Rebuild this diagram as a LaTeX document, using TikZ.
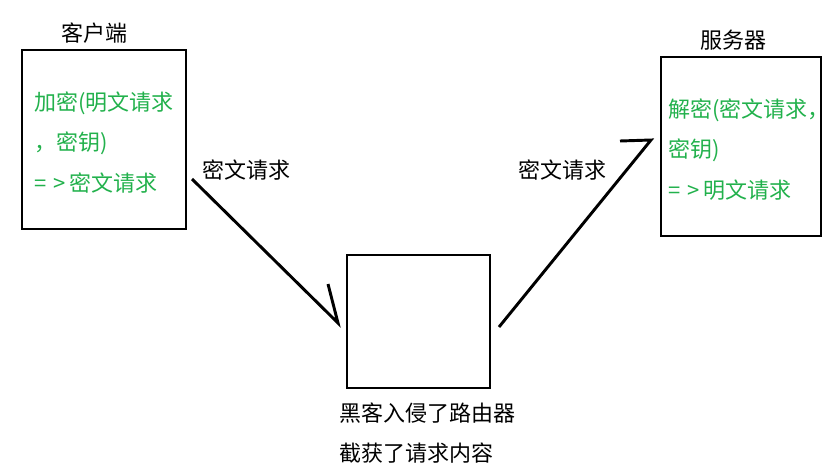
\documentclass[tikz,border=0pt]{standalone}
\usepackage{fontspec}
\setmainfont{Noto Sans CJK SC}
\definecolor{grn}{RGB}{34,177,76}
\begin{document}
\begin{tikzpicture}[x=0.75pt,y=-0.75pt,
  box/.style={draw,line width=2.2pt,inner sep=0pt},
  ln/.style={line width=2.2pt},
  txt/.style={font=\fontsize{16.5pt}{19pt}\selectfont,anchor=west,inner sep=0pt},
  gtxt/.style={txt,text=grn}]
\useasboundingbox (0,0) rectangle (840,472);
\node[box,minimum width=164*0.75pt,minimum height=179*0.75pt] (c) at (104,139.5) {};
\node[box,minimum width=160*0.75pt,minimum height=179*0.75pt] (s) at (741,146.5) {};
\node[box,minimum width=143*0.75pt,minimum height=133*0.75pt] (m) at (418.5,321.5) {};
\node[txt] (ct) at (61,33) {客户端};
\node[txt] (st) at (700,40) {服务器};
\node[gtxt] (c1) at (34,103) {加密(明文请求};
\node[gtxt] (c2) at (34,143) {，密钥)};
\node[gtxt] (c3) at (34,183) {=\,\,>\,密文请求};
\node[gtxt] (s1) at (668,110) {解密(密文请求，};
\node[gtxt] (s2) at (668,150) {密钥)};
\node[gtxt] (s3) at (668,190) {=\,\,>\,明文请求};
\node[txt] (l1) at (202,170) {密文请求};
\node[txt] (l2) at (518,170) {密文请求};
\node[txt] (m1) at (339,413) {黑客入侵了路由器};
\node[txt] (m2) at (339,453) {截获了请求内容};
\coordinate (a1) at (192,179);
\coordinate (a2) at (338,323);
\coordinate (h1) at (328,284);
\coordinate (b1) at (499,327);
\coordinate (b2) at (651,140);
\coordinate (h2) at (620,141);
\draw[ln] (a1) -- (a2) -- (h1);
\draw[ln] (b1) -- (b2) -- (h2);
\end{tikzpicture}
\end{document}
